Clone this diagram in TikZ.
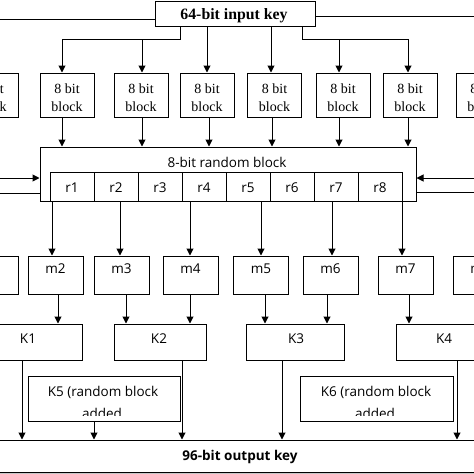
\documentclass[tikz,border=0pt]{standalone}
\usepackage{fontspec}
\setmainfont{Liberation Serif}
\newfontfamily\osans{Open Sans}
\usetikzlibrary{arrows.meta}
\begin{document}
\begin{tikzpicture}[x=1pt,y=-1pt,line width=1pt,
  arr/.style={-{Triangle[length=7pt,width=7pt]}},
  bx/.style={draw,rectangle,inner sep=0pt},
  blk/.style={bx,minimum width=54pt,minimum height=44pt},
  cel/.style={bx,minimum width=44pt,minimum height=29pt},
  mbx/.style={bx,minimum width=55pt,minimum height=38pt},
  kbx/.style={bx,minimum height=36pt},
  stxt/.style={anchor=base,inner sep=0pt,font=\osans\fontsize{13.5}{16}\selectfont},
  btxt/.style={anchor=base,inner sep=0pt,font=\fontsize{14}{17}\selectfont}]
\useasboundingbox (0,0) rectangle (474,474);
\clip (0,0) rectangle (474,474);
\fill[black!22] (0,472) rectangle (474,474);
% top
\node[bx,minimum width=160pt,minimum height=25pt] (top) at (235,13.5) {};
\node[anchor=base,inner sep=0pt,font=\bfseries\fontsize{15.8}{18}\selectfont] (topt) at (234,19) {64-bit input key};
\coordinate (eL) at (0,19); \coordinate (eR) at (474,16);
\draw ([yshift=-5.5pt]top.west) -- (eL);
\draw ([yshift=-2.5pt]top.east) -- (eR);
% blocks
\foreach \i/\x in {1/-9,2/67,3/141,4/207,5/274.5,6/343,7/410,8/483}{
  \node[blk] (b\i) at (\x,95) {};
  \node[btxt] (b\i a) at (\x,93) {8 bit};
  \node[btxt] (b\i b) at (\x,111) {block};
}
% buses
\coordinate (bl) at (180,39); \coordinate (br) at (302,39);
\coordinate (bus2) at (62,39); \coordinate (bus3) at (142,39);
\coordinate (bus6) at (339,39); \coordinate (bus7) at (408,39);
\draw (bl |- top.south) -- (bl) -- (bus2);
\draw (br |- top.south) -- (br) -- (bus7);
\draw[arr] (bus2) -- ([xshift=-5pt]b2.north);
\draw[arr] (bus3) -- ([xshift=1pt]b3.north);
\path ([xshift=0pt]b4.north) coordinate (t4) ([xshift=-3.5pt]b5.north) coordinate (t5);
\draw[arr] (t4 |- top.south) -- (t4);
\draw[arr] (t5 |- top.south) -- (t5);
\draw[arr] (bus6) -- ([xshift=-4pt]b6.north);
\draw[arr] (bus7) -- ([xshift=-2pt]b7.north);
% random block
\node[bx,minimum width=376pt,minimum height=54pt] (rand) at (228,174) {};
\node[stxt] (randt) at (227,167) {8-bit random block};
\foreach \i/\x in {1/72,2/116,3/160,4/204,5/248,6/292,7/336,8/380}{
  \node[cel] (r\i) at (\x,186.5) {};
  \node[stxt] (r\i t) at (\x,192) {r\i};
}
\foreach \i/\d in {2/-5,3/1,4/2,5/-2.5,6/-4,7/-2}{
  \path ([xshift=\d pt]b\i.south) coordinate (s\i);
  \draw[arr] (s\i) -- (s\i |- rand.north);
}
\coordinate (lA) at (0,178); \coordinate (lB) at (0,193);
\coordinate (rA) at (474,178); \coordinate (rB) at (474,192);
\draw[arr] (lA) -- (lA -| rand.west);
\draw (lB) -- (lB -| rand.west);
\draw[arr] (rA) -- (rA -| rand.east);
\draw (rB) -- (rB -| rand.east);
% m boxes
\foreach \i/\x in {1/-9.5,2/55.5,3/121.5,4/190.5,5/261,6/330.5,7/405.5,8/480.5}{
  \node[mbx] (m\i) at (\x,275) {};
  \node[stxt] (m\i t) at (\x,273) {m\i};
}
\foreach \m/\d in {2/-3.5,3/-1.5,4/-0.5,5/0,6/1.5,7/-3.5}{
  \path ([xshift=\d pt]m\m.north) coordinate (mt\m);
  \draw[arr] (mt\m |- rand.south) -- (mt\m);
}
% K boxes
\node[kbx,minimum width=100pt] (K1) at (32,342) {};
\node[kbx,minimum width=92pt] (K2) at (160,342) {};
\node[kbx,minimum width=98pt] (K3) at (295,342) {};
\node[kbx,minimum width=96pt] (K4) at (444,342) {};
\foreach \k/\x in {1/28,2/159,3/296,4/444}{
  \node[stxt] (K\k t) at (\x,343) {K\k};
}
\foreach \m/\d/\k in {2/2.5/1,3/4.5/2,4/-0.5/2,5/4/3,6/-3.5/3,7/3.5/4}{
  \path ([xshift=\d pt]m\m.south) coordinate (ms\m);
  \draw[arr] (ms\m) -- (ms\m |- K\k.north);
}
% K5, K6
\node[bx,minimum width=152pt,minimum height=45pt] (K5) at (104,398.5) {};
\node[bx,minimum width=153pt,minimum height=45pt] (K6) at (376.5,398.5) {};
\node[stxt] (K5t) at (103,396) {K5 (random block};
\node[stxt] (K6t) at (376,396) {K6 (random block};
\begin{scope}
  \clip (0,400) rectangle (474,415);
  \node[stxt] (K5u) at (102,418.5) {added};
  \node[stxt] (K6u) at (375,418.5) {added};
\end{scope}
% output
\node[bx,minimum width=484pt,minimum height=32pt] (out) at (237,456) {};
\node[anchor=base,inner sep=0pt,font=\osans\bfseries\fontsize{13.5}{16}\selectfont] (outt) at (240,460) {96-bit output key};
\foreach \n/\d in {K1/-10,K5/-10,K2/22,K3/-13,K4/13}{
  \path ([xshift=\d pt]\n.south) coordinate (o\n);
  \draw[arr] (o\n) -- (o\n |- out.north);
}
\end{tikzpicture}
\end{document}
